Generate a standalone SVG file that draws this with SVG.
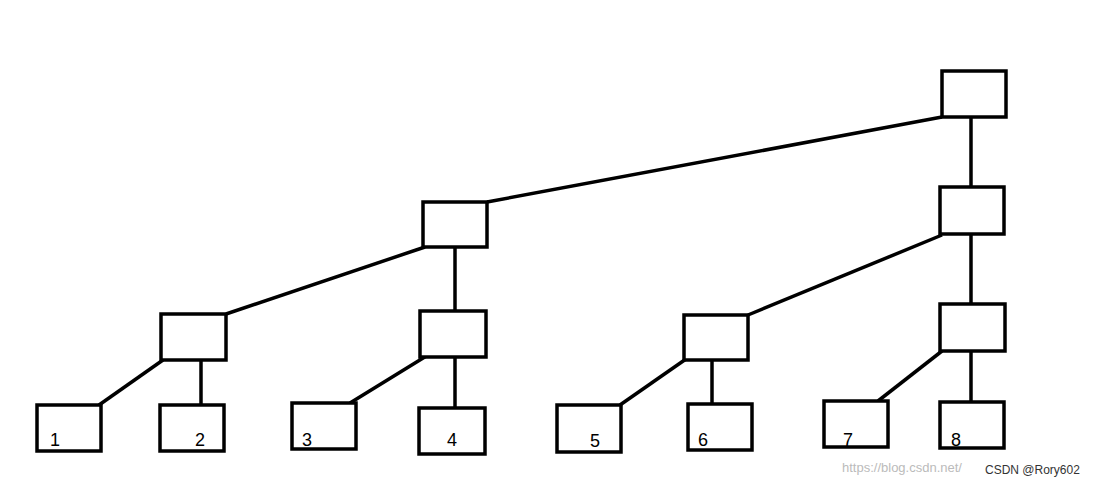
<svg xmlns="http://www.w3.org/2000/svg" width="1096" height="486" viewBox="0 0 1096 486">
<style>
rect{fill:#fff;stroke:#000;stroke-width:3.5}
line{stroke:#000;stroke-width:3.5}
text{font-family:"Liberation Sans",Arial,sans-serif;font-size:18px;fill:#000}
.wm{font-size:13px;fill:#bbb}
.wm2{font-size:12px;fill:#333}
</style>
<rect x="0" y="0" width="1096" height="486" style="fill:#fff;stroke:none"/>
<g id="connectors">
<line x1="971" y1="117" x2="971" y2="187"/>
<line x1="942" y1="117" x2="487" y2="202"/>
<line x1="425" y1="247" x2="226" y2="314"/>
<line x1="455" y1="247" x2="455" y2="311"/>
<line x1="971" y1="234" x2="971" y2="304"/>
<line x1="942" y1="235" x2="748" y2="315"/>
<line x1="201" y1="360" x2="201" y2="405"/>
<line x1="163" y1="360" x2="99" y2="405"/>
<line x1="428" y1="355" x2="350" y2="403"/>
<line x1="455" y1="357" x2="455" y2="408"/>
<line x1="712" y1="360" x2="712" y2="404"/>
<line x1="686" y1="359" x2="620" y2="405"/>
<line x1="971" y1="351" x2="971" y2="402"/>
<line x1="942" y1="351" x2="878" y2="401"/>
</g>
<g id="root"><rect x="942" y="71" width="64" height="46"/></g>
<g id="a"><rect x="423" y="202" width="64" height="45"/></g>
<g id="b"><rect x="940" y="187" width="64" height="47"/></g>
<g id="c"><rect x="161" y="314" width="65" height="46"/></g>
<g id="d"><rect x="420" y="311" width="66" height="46"/></g>
<g id="e"><rect x="684" y="315" width="64" height="45"/></g>
<g id="f"><rect x="940" y="304" width="65" height="47"/></g>
<g id="leaf1"><rect x="37" y="405" width="64" height="46"/><text x="50" y="446">1</text></g>
<g id="leaf2"><rect x="160" y="405" width="64" height="46"/><text x="195" y="446">2</text></g>
<g id="leaf3"><rect x="292" y="403" width="64" height="46"/><text x="302" y="446">3</text></g>
<g id="leaf4"><rect x="419" y="408" width="66" height="46"/><text x="447" y="446">4</text></g>
<g id="leaf5"><rect x="557" y="405" width="64" height="47"/><text x="590" y="447">5</text></g>
<g id="leaf6"><rect x="688" y="404" width="64" height="46"/><text x="698" y="446">6</text></g>
<g id="leaf7"><rect x="824" y="401" width="64" height="46"/><text x="843" y="446">7</text></g>
<g id="leaf8"><rect x="940" y="402" width="64" height="46"/><text x="951" y="446">8</text></g>
<text class="wm" x="842" y="472">https://blog.csdn.net/</text>
<text class="wm2" x="985" y="474">CSDN @Rory602</text>
</svg>
